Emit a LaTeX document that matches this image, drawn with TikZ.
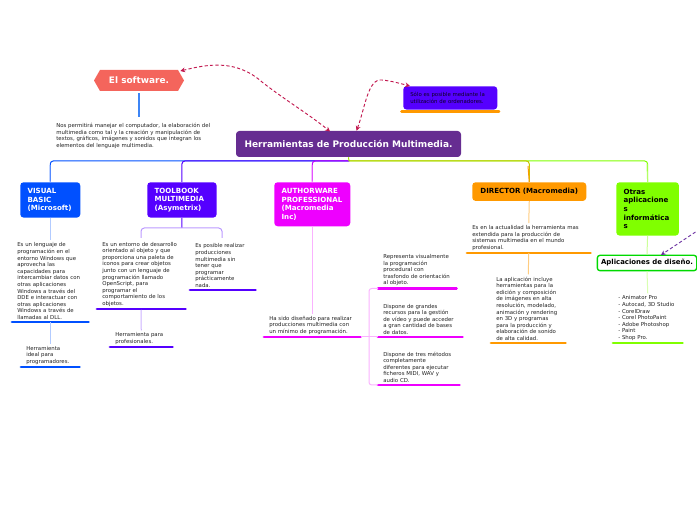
\documentclass[tikz,border=0pt]{standalone}
\usepackage{fontspec}
\setmainfont{DejaVu Sans}
\usetikzlibrary{shapes.misc,arrows.meta,calc}
\definecolor{cSoft}{HTML}{F4655C}
\definecolor{cMain}{HTML}{662D91}
\definecolor{cBlue}{HTML}{0050FF}
\definecolor{cViolet}{HTML}{5500FF}
\definecolor{cMag}{HTML}{EE00FF}
\definecolor{cOrange}{HTML}{FF9900}
\definecolor{cGreen}{HTML}{80FF00}
\definecolor{cDash}{HTML}{C2184F}
\definecolor{cDashP}{HTML}{6A2FA0}
\definecolor{cTxt}{HTML}{222222}
\definecolor{cSky}{HTML}{3D85F5}
\tikzset{
  x=0.75pt,y=-0.75pt,
  small/.style={font=\fontsize{4.05}{4.95}\selectfont,text=cTxt,align=left},
  tb/.style={small,anchor=south west,inner xsep=3.75pt,inner ysep=1.6pt,text width=#1*0.75pt-7.5pt},
  ul/.style={draw=#1,line width=2.1pt,line cap=round},
  link/.style={draw=#1,line width=0.75pt},
  box/.style={rounded corners=2.5pt,anchor=north west,font=\fontsize{5.3}{6.5}\selectfont\bfseries,align=left,inner sep=0pt,text=white,fill=#1},
  dashlink/.style={draw=#1,line width=0.7pt,dash pattern=on 2.4pt off 1.7pt,{Stealth[length=3.6pt,width=3.6pt]}-{Stealth[length=3.6pt,width=3.6pt]}},
}
\begin{document}
\begin{tikzpicture}
\useasboundingbox (0,0) rectangle (697,520);
% main nodes
\fill[cSoft] (94,80.5) -- (100,70) -- (178,70) -- (184,80.5) -- (178,91) -- (100,91) -- cycle;
\node[text=white,font=\fontsize{6.7}{8}\selectfont\bfseries,minimum width=67.5pt,minimum height=15.8pt,inner sep=0pt,anchor=center] (soft) at (139,80.5) {El software.};
\node[fill=cMain,rounded corners=2.5pt,text=white,font=\fontsize{6.75}{8}\selectfont\bfseries,minimum width=168.75pt,minimum height=19.5pt,inner sep=0pt] (main) at (348.5,144) {Herramientas de Producción Multimedia.};
\coordinate (bus) at (349,161);

\node[small,anchor=north west,inner sep=0pt,text width=125pt] (softtxt) at (56,123) {Nos permitirá manejar el computador, la elaboración del\\multimedia como tal y la creación y manipulación de\\textos, gráficos, imágenes y sonidos que integran los\\elementos del lenguaje multimedia.};

\node[box=cViolet,minimum width=70.5pt,minimum height=17.5pt,text=black!85!cViolet,font=\fontsize{4.05}{4.95}\selectfont,text width=60pt,inner xsep=5.25pt] (solo) at (403,86) {Sólo es posible mediante la\\utilización de ordenadores.};

% level 1
\node[box=cBlue,minimum width=45pt,minimum height=26.5pt,inner xsep=5.5pt,text width=34pt,anchor=north west] (vb) at (20,182) {VISUAL\\BASIC\\(Microsoft)};
\node[box=cViolet,minimum width=52pt,minimum height=26.5pt,inner xsep=5.5pt,text width=41pt] (tbk) at (147,182) {TOOLBOOK\\MULTIMEDIA\\(Asymetrix)};
\node[box=cMag,minimum width=57pt,minimum height=33pt,inner xsep=5.5pt,text width=46pt] (aw) at (274,182) {AUTHORWARE\\PROFESSIONAL\\(Macromedia\\Inc)};
\node[box=cOrange,minimum width=85.5pt,minimum height=14pt,align=center,text=black,text width=85pt,inner xsep=0pt] (dir) at (472,182) {DIRECTOR (Macromedia)};
\node[box=cGreen,minimum width=46.5pt,minimum height=40pt,text=black,inner xsep=5.5pt,text width=36pt] (otr) at (616,182) {Otras\\aplicacione\\s\\informática\\s};
\node[draw=green!85!black,fill=white,line width=1pt,rounded corners=2pt,text=black,font=\fontsize{5.2}{6.5}\selectfont\bfseries,minimum width=74.5pt,minimum height=11.5pt,inner sep=0pt] (apl) at (647,263) {Aplicaciones de diseño.};

% text nodes with underline
\node[tb=76] (vb1) at (12,322) {Es un lenguaje de\\programación en el\\entorno Windows que\\aprovecha las\\capacidades para\\intercambiar datos con\\otras aplicaciones\\Windows a través del\\DDE e interactuar con\\otras aplicaciones\\Windows a través de\\llamadas al DLL.};
\node[tb=58] (vb2) at (21,367) {Herramienta\\ideal para\\programadores.};
\node[tb=88] (tb1) at (97,309) {Es un entorno de desarrollo\\orientado al objeto y que\\proporciona una paleta de\\iconos para crear objetos\\junto con un lenguaje de\\programación llamado\\OpenScript, para\\programar el\\comportamiento de los\\objetos.};
\node[tb=62] (tb3) at (110,347) {Herramienta para\\profesionales.};
\node[tb=65] (tb2) at (190,290) {Es posible realizar\\producciones\\multimedia sin\\tener que\\programar\\prácticamente\\nada.};
\node[tb=96] (aw1) at (264,337) {Ha sido diseñado para realizar\\producciones multimedia con\\un mínimo de programación.};
\node[tb=78] (aw2) at (378,288.5) {Representa visualmente\\la programación\\procedural con\\trasfondo de orientación\\al objeto.};
\node[tb=84] (aw3) at (378,337) {Dispone de grandes\\recursos para la gestión\\de vídeo y puede acceder\\a gran cantidad de bases\\de datos.};
\node[tb=81] (aw4) at (378,385) {Dispone de tres métodos\\completamente\\diferentes para ejecutar\\ficheros MIDI, WAV y\\audio CD.};
\node[tb=123] (dir1) at (467,253) {Es en la actualidad la herramienta mas\\extendida para la producción de\\sistemas multimedia en el mundo\\profesional.};
\node[tb=74] (dir2) at (491,343) {La aplicación incluye\\herramientas para la\\edición y composición\\de imágenes en alta\\resolución, modelado,\\animación y rendering\\en 3D y programas\\para la producción y\\elaboración de sonido\\de alta calidad.};
\node[tb=69] (otr1) at (613,343) {- Animator Pro\\- Autocad, 3D Studio\\- CorelDraw\\- Corel PhotoPaint\\- Adobe Photoshop\\- Paint\\- Shop Pro.};

% underlines
\draw[ul=cOrange] ($(solo.south west)+(-1.5,1.5)$) -- ($(solo.south east)+(1.5,1.5)$);
\foreach \n/\c in {vb1/cBlue,vb2/cBlue,tb1/cViolet,tb2/cViolet,tb3/cViolet,aw1/cMag,aw2/cMag,aw3/cMag,aw4/cMag,dir1/cOrange,dir2/cOrange,otr1/cGreen}
  \draw[ul=\c] (\n.south west) -- (\n.south east);

\draw[link=cGreen,rounded corners=2.2pt] (bus) -| (otr.north);
\draw[link=cOrange!55!cGreen,rounded corners=2.2pt] (bus) -| (dir.north);
\draw[link=cOrange] (528,166) -- (dir.north);
\draw[link=cBlue,rounded corners=2.2pt] (bus) -| (vb.north);
\draw[link=cBlue!50!white] (50,165) -- (vb.north);
\draw[link=cViolet,rounded corners=2.2pt] (bus) -| (tbk.north);
\draw[link=cMag!70!cViolet,rounded corners=2.2pt] (bus) -| (aw.north);
\draw[link=cMag!50!white] (312,165) -- (aw.north);
\draw[link=cGreen!75!cOrange] (main.south) -- (bus);
\draw[link=cGreen!60!white] (647,164) -- (otr.north);

\draw[link=cBlue!30!white] (vb.south) -- (vb1.north);
\draw[link=cBlue!30!white] (vb1.south) -- (vb2.north);
\draw[link=cViolet] (tbk.south) -- (182,228);
\draw[link=cViolet!40!white,rounded corners=2.5pt] (141,238) |- (182,228) -| (222,238);
\draw[link=cViolet!30!white] (141,310) -- (tb3.north);
\draw[link=cMag!30!white] (aw.south) -- (aw1.north -| aw.south);
\draw[link=cMag!30!white,rounded corners=2pt] (aw2.south west) -| (369,337) |- (aw4.south west);
\draw[link=cMag!30!white] (aw1.south east) -- (aw3.south west);
\draw[link=cOrange!50!white] (dir.south) -- (dir1.north);
\draw[link=cOrange!50!white] (dir1.south) -- (dir2.north);
\draw[link=cGreen!40!white] (otr.south) -- (apl.north);
\draw[link=cGreen!30!white] (apl.south) -- (otr1.north);

% software to its text
\coordinate (softend) at (softtxt.north -| soft.south);
\path[fill=cSky,draw=none] ($(soft.south)+(-0.6,1.5)$) rectangle ($(softend)+(0.6,-6)$);

% dashed relations
\draw[dashlink=cDash] (soft.east) ++(-4,-9.5) .. controls (205,65) and (235,58) .. (262,82) .. controls (285,100) and (310,115) .. (330,131.5);
\draw[dashlink=cDash] ($(main.north)+(8,0)$) .. controls (365,108) and (368,78) .. (382,80) .. controls (392,81) and (402,84) .. (410,86);
\coordinate (offpage) at (700,229);
\draw[draw=cDashP,line width=0.7pt,dash pattern=on 2.4pt off 1.7pt,-{Stealth[length=3.6pt,width=3.6pt]}] (offpage) -- (661,255);
\end{tikzpicture}
\end{document}
